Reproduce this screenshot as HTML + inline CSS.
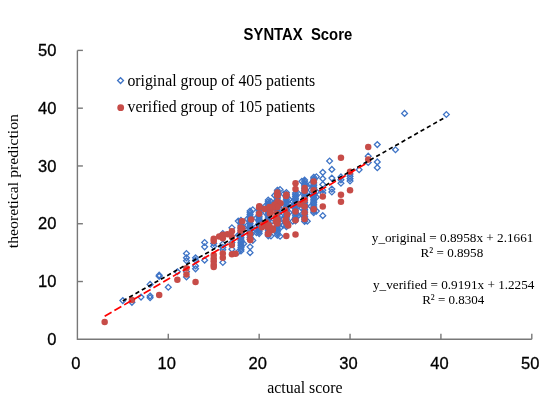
<!DOCTYPE html>
<html><head><meta charset="utf-8"><style>
html,body{margin:0;padding:0;background:#fff;}
svg{display:block;will-change:transform;}
.t{font-family:"Liberation Sans",sans-serif;font-size:16.5px;fill:#000;stroke:#000;stroke-width:0.3px;}
.s{font-family:"Liberation Serif",serif;fill:#000;}
</style></head><body>
<svg width="550" height="401" viewBox="0 0 550 401">
<rect width="550" height="401" fill="#fff"/>
<text x="243.6" y="40.0" textLength="108.6" lengthAdjust="spacingAndGlyphs" style="font-family:'Liberation Sans',sans-serif;font-weight:bold;font-size:16.2px;white-space:pre" xml:space="preserve">SYNTAX  Score</text>
<path d="M77.4 50.4V339.3H531.8" fill="none" stroke="#787878" stroke-width="1.4"/><path d="M77.4 281.52h5.5" stroke="#787878" stroke-width="1.4"/><path d="M77.4 223.74h5.5" stroke="#787878" stroke-width="1.4"/><path d="M77.4 165.96h5.5" stroke="#787878" stroke-width="1.4"/><path d="M77.4 108.18h5.5" stroke="#787878" stroke-width="1.4"/><path d="M77.4 50.40h5.5" stroke="#787878" stroke-width="1.4"/><path d="M168.28 339.3v-5.5" stroke="#787878" stroke-width="1.4"/><path d="M259.16 339.3v-5.5" stroke="#787878" stroke-width="1.4"/><path d="M350.04 339.3v-5.5" stroke="#787878" stroke-width="1.4"/><path d="M440.92 339.3v-5.5" stroke="#787878" stroke-width="1.4"/><path d="M531.80 339.3v-5.5" stroke="#787878" stroke-width="1.4"/>
<g class="t"><text x="56.4" y="345.00" text-anchor="end">0</text><text x="56.4" y="287.22" text-anchor="end">10</text><text x="56.4" y="229.44" text-anchor="end">20</text><text x="56.4" y="171.66" text-anchor="end">30</text><text x="56.4" y="113.88" text-anchor="end">40</text><text x="56.4" y="56.10" text-anchor="end">50</text><text x="75.90" y="368.6" text-anchor="middle">0</text><text x="166.78" y="368.6" text-anchor="middle">10</text><text x="257.66" y="368.6" text-anchor="middle">20</text><text x="348.54" y="368.6" text-anchor="middle">30</text><text x="439.42" y="368.6" text-anchor="middle">40</text><text x="530.30" y="368.6" text-anchor="middle">50</text></g>
<g fill="none" stroke="#3f74c6" stroke-width="1.3"><path d="M238.26 248.91l2.9 2.9 -2.9 2.9 -2.9 -2.9z"/><path d="M243.71 240.79l2.9 2.9 -2.9 2.9 -2.9 -2.9z"/><path d="M238.26 232.25l2.9 2.9 -2.9 2.9 -2.9 -2.9z"/><path d="M243.71 224.66l2.9 2.9 -2.9 2.9 -2.9 -2.9z"/><path d="M238.26 218.21l2.9 2.9 -2.9 2.9 -2.9 -2.9z"/><path d="M252.80 237.51l2.9 2.9 -2.9 2.9 -2.9 -2.9z"/><path d="M252.80 229.22l2.9 2.9 -2.9 2.9 -2.9 -2.9z"/><path d="M247.35 222.64l2.9 2.9 -2.9 2.9 -2.9 -2.9z"/><path d="M247.35 216.14l2.9 2.9 -2.9 2.9 -2.9 -2.9z"/><path d="M252.80 206.85l2.9 2.9 -2.9 2.9 -2.9 -2.9z"/><path d="M256.43 229.83l2.9 2.9 -2.9 2.9 -2.9 -2.9z"/><path d="M256.43 223.75l2.9 2.9 -2.9 2.9 -2.9 -2.9z"/><path d="M256.43 215.17l2.9 2.9 -2.9 2.9 -2.9 -2.9z"/><path d="M261.89 205.27l2.9 2.9 -2.9 2.9 -2.9 -2.9z"/><path d="M270.97 233.07l2.9 2.9 -2.9 2.9 -2.9 -2.9z"/><path d="M270.97 225.07l2.9 2.9 -2.9 2.9 -2.9 -2.9z"/><path d="M270.97 219.01l2.9 2.9 -2.9 2.9 -2.9 -2.9z"/><path d="M265.52 209.87l2.9 2.9 -2.9 2.9 -2.9 -2.9z"/><path d="M265.52 203.00l2.9 2.9 -2.9 2.9 -2.9 -2.9z"/><path d="M270.97 198.76l2.9 2.9 -2.9 2.9 -2.9 -2.9z"/><path d="M280.06 233.38l2.9 2.9 -2.9 2.9 -2.9 -2.9z"/><path d="M280.06 224.99l2.9 2.9 -2.9 2.9 -2.9 -2.9z"/><path d="M280.06 219.79l2.9 2.9 -2.9 2.9 -2.9 -2.9z"/><path d="M280.06 212.82l2.9 2.9 -2.9 2.9 -2.9 -2.9z"/><path d="M280.06 206.35l2.9 2.9 -2.9 2.9 -2.9 -2.9z"/><path d="M274.61 199.57l2.9 2.9 -2.9 2.9 -2.9 -2.9z"/><path d="M274.61 192.53l2.9 2.9 -2.9 2.9 -2.9 -2.9z"/><path d="M280.06 186.64l2.9 2.9 -2.9 2.9 -2.9 -2.9z"/><path d="M283.70 222.12l2.9 2.9 -2.9 2.9 -2.9 -2.9z"/><path d="M283.70 216.17l2.9 2.9 -2.9 2.9 -2.9 -2.9z"/><path d="M289.15 209.63l2.9 2.9 -2.9 2.9 -2.9 -2.9z"/><path d="M283.70 204.02l2.9 2.9 -2.9 2.9 -2.9 -2.9z"/><path d="M289.15 196.52l2.9 2.9 -2.9 2.9 -2.9 -2.9z"/><path d="M283.70 191.07l2.9 2.9 -2.9 2.9 -2.9 -2.9z"/><path d="M292.79 218.26l2.9 2.9 -2.9 2.9 -2.9 -2.9z"/><path d="M298.24 212.68l2.9 2.9 -2.9 2.9 -2.9 -2.9z"/><path d="M292.79 203.15l2.9 2.9 -2.9 2.9 -2.9 -2.9z"/><path d="M292.79 198.73l2.9 2.9 -2.9 2.9 -2.9 -2.9z"/><path d="M298.24 190.64l2.9 2.9 -2.9 2.9 -2.9 -2.9z"/><path d="M307.33 218.35l2.9 2.9 -2.9 2.9 -2.9 -2.9z"/><path d="M301.87 211.62l2.9 2.9 -2.9 2.9 -2.9 -2.9z"/><path d="M301.87 205.42l2.9 2.9 -2.9 2.9 -2.9 -2.9z"/><path d="M301.87 199.23l2.9 2.9 -2.9 2.9 -2.9 -2.9z"/><path d="M307.33 189.43l2.9 2.9 -2.9 2.9 -2.9 -2.9z"/><path d="M307.33 184.82l2.9 2.9 -2.9 2.9 -2.9 -2.9z"/><path d="M301.87 178.41l2.9 2.9 -2.9 2.9 -2.9 -2.9z"/><path d="M316.41 208.20l2.9 2.9 -2.9 2.9 -2.9 -2.9z"/><path d="M310.96 203.40l2.9 2.9 -2.9 2.9 -2.9 -2.9z"/><path d="M316.41 194.27l2.9 2.9 -2.9 2.9 -2.9 -2.9z"/><path d="M316.41 188.97l2.9 2.9 -2.9 2.9 -2.9 -2.9z"/><path d="M310.96 180.94l2.9 2.9 -2.9 2.9 -2.9 -2.9z"/><path d="M316.41 173.91l2.9 2.9 -2.9 2.9 -2.9 -2.9z"/><path d="M122.84 297.69l2.9 2.9 -2.9 2.9 -2.9 -2.9z"/><path d="M131.93 299.42l2.9 2.9 -2.9 2.9 -2.9 -2.9z"/><path d="M141.02 294.22l2.9 2.9 -2.9 2.9 -2.9 -2.9z"/><path d="M150.10 294.80l2.9 2.9 -2.9 2.9 -2.9 -2.9z"/><path d="M150.10 293.07l2.9 2.9 -2.9 2.9 -2.9 -2.9z"/><path d="M150.10 281.51l2.9 2.9 -2.9 2.9 -2.9 -2.9z"/><path d="M159.19 273.42l2.9 2.9 -2.9 2.9 -2.9 -2.9z"/><path d="M159.19 272.26l2.9 2.9 -2.9 2.9 -2.9 -2.9z"/><path d="M168.28 284.40l2.9 2.9 -2.9 2.9 -2.9 -2.9z"/><path d="M177.37 268.80l2.9 2.9 -2.9 2.9 -2.9 -2.9z"/><path d="M186.46 250.60l2.9 2.9 -2.9 2.9 -2.9 -2.9z"/><path d="M186.46 254.93l2.9 2.9 -2.9 2.9 -2.9 -2.9z"/><path d="M186.46 257.82l2.9 2.9 -2.9 2.9 -2.9 -2.9z"/><path d="M186.46 268.80l2.9 2.9 -2.9 2.9 -2.9 -2.9z"/><path d="M186.46 274.00l2.9 2.9 -2.9 2.9 -2.9 -2.9z"/><path d="M195.54 254.93l2.9 2.9 -2.9 2.9 -2.9 -2.9z"/><path d="M195.54 257.24l2.9 2.9 -2.9 2.9 -2.9 -2.9z"/><path d="M195.54 263.02l2.9 2.9 -2.9 2.9 -2.9 -2.9z"/><path d="M195.54 265.91l2.9 2.9 -2.9 2.9 -2.9 -2.9z"/><path d="M204.63 239.62l2.9 2.9 -2.9 2.9 -2.9 -2.9z"/><path d="M204.63 243.95l2.9 2.9 -2.9 2.9 -2.9 -2.9z"/><path d="M204.63 257.24l2.9 2.9 -2.9 2.9 -2.9 -2.9z"/><path d="M213.72 243.37l2.9 2.9 -2.9 2.9 -2.9 -2.9z"/><path d="M213.72 240.49l2.9 2.9 -2.9 2.9 -2.9 -2.9z"/><path d="M222.81 230.66l2.9 2.9 -2.9 2.9 -2.9 -2.9z"/><path d="M222.81 241.06l2.9 2.9 -2.9 2.9 -2.9 -2.9z"/><path d="M222.81 244.53l2.9 2.9 -2.9 2.9 -2.9 -2.9z"/><path d="M222.81 246.84l2.9 2.9 -2.9 2.9 -2.9 -2.9z"/><path d="M222.81 259.55l2.9 2.9 -2.9 2.9 -2.9 -2.9z"/><path d="M231.90 224.88l2.9 2.9 -2.9 2.9 -2.9 -2.9z"/><path d="M231.90 239.62l2.9 2.9 -2.9 2.9 -2.9 -2.9z"/><path d="M231.90 246.26l2.9 2.9 -2.9 2.9 -2.9 -2.9z"/><path d="M250.07 243.95l2.9 2.9 -2.9 2.9 -2.9 -2.9z"/><path d="M250.07 249.73l2.9 2.9 -2.9 2.9 -2.9 -2.9z"/><path d="M322.78 169.42l2.9 2.9 -2.9 2.9 -2.9 -2.9z"/><path d="M322.78 175.77l2.9 2.9 -2.9 2.9 -2.9 -2.9z"/><path d="M322.78 181.55l2.9 2.9 -2.9 2.9 -2.9 -2.9z"/><path d="M322.78 187.33l2.9 2.9 -2.9 2.9 -2.9 -2.9z"/><path d="M322.78 190.22l2.9 2.9 -2.9 2.9 -2.9 -2.9z"/><path d="M322.78 212.75l2.9 2.9 -2.9 2.9 -2.9 -2.9z"/><path d="M329.59 158.15l2.9 2.9 -2.9 2.9 -2.9 -2.9z"/><path d="M331.86 166.53l2.9 2.9 -2.9 2.9 -2.9 -2.9z"/><path d="M331.86 175.19l2.9 2.9 -2.9 2.9 -2.9 -2.9z"/><path d="M331.86 186.17l2.9 2.9 -2.9 2.9 -2.9 -2.9z"/><path d="M331.86 189.06l2.9 2.9 -2.9 2.9 -2.9 -2.9z"/><path d="M340.95 174.04l2.9 2.9 -2.9 2.9 -2.9 -2.9z"/><path d="M340.95 176.93l2.9 2.9 -2.9 2.9 -2.9 -2.9z"/><path d="M340.95 180.39l2.9 2.9 -2.9 2.9 -2.9 -2.9z"/><path d="M350.04 171.15l2.9 2.9 -2.9 2.9 -2.9 -2.9z"/><path d="M350.04 173.46l2.9 2.9 -2.9 2.9 -2.9 -2.9z"/><path d="M350.04 175.77l2.9 2.9 -2.9 2.9 -2.9 -2.9z"/><path d="M350.04 178.08l2.9 2.9 -2.9 2.9 -2.9 -2.9z"/><path d="M359.13 166.82l2.9 2.9 -2.9 2.9 -2.9 -2.9z"/><path d="M368.22 153.24l2.9 2.9 -2.9 2.9 -2.9 -2.9z"/><path d="M368.22 159.59l2.9 2.9 -2.9 2.9 -2.9 -2.9z"/><path d="M377.30 141.68l2.9 2.9 -2.9 2.9 -2.9 -2.9z"/><path d="M377.30 159.02l2.9 2.9 -2.9 2.9 -2.9 -2.9z"/><path d="M377.30 164.79l2.9 2.9 -2.9 2.9 -2.9 -2.9z"/><path d="M395.48 146.88l2.9 2.9 -2.9 2.9 -2.9 -2.9z"/><path d="M404.57 110.48l2.9 2.9 -2.9 2.9 -2.9 -2.9z"/><path d="M446.37 111.64l2.9 2.9 -2.9 2.9 -2.9 -2.9z"/><path d="M240.98 248.00l2.9 2.9 -2.9 2.9 -2.9 -2.9z"/><path d="M240.98 246.30l2.9 2.9 -2.9 2.9 -2.9 -2.9z"/><path d="M240.98 244.59l2.9 2.9 -2.9 2.9 -2.9 -2.9z"/><path d="M240.98 242.89l2.9 2.9 -2.9 2.9 -2.9 -2.9z"/><path d="M240.98 241.19l2.9 2.9 -2.9 2.9 -2.9 -2.9z"/><path d="M240.98 239.49l2.9 2.9 -2.9 2.9 -2.9 -2.9z"/><path d="M240.98 237.79l2.9 2.9 -2.9 2.9 -2.9 -2.9z"/><path d="M240.98 236.09l2.9 2.9 -2.9 2.9 -2.9 -2.9z"/><path d="M240.98 234.39l2.9 2.9 -2.9 2.9 -2.9 -2.9z"/><path d="M240.98 232.68l2.9 2.9 -2.9 2.9 -2.9 -2.9z"/><path d="M240.98 230.98l2.9 2.9 -2.9 2.9 -2.9 -2.9z"/><path d="M240.98 229.28l2.9 2.9 -2.9 2.9 -2.9 -2.9z"/><path d="M240.98 227.58l2.9 2.9 -2.9 2.9 -2.9 -2.9z"/><path d="M240.98 225.88l2.9 2.9 -2.9 2.9 -2.9 -2.9z"/><path d="M240.98 224.18l2.9 2.9 -2.9 2.9 -2.9 -2.9z"/><path d="M240.98 222.48l2.9 2.9 -2.9 2.9 -2.9 -2.9z"/><path d="M240.98 220.78l2.9 2.9 -2.9 2.9 -2.9 -2.9z"/><path d="M240.98 219.07l2.9 2.9 -2.9 2.9 -2.9 -2.9z"/><path d="M240.98 217.37l2.9 2.9 -2.9 2.9 -2.9 -2.9z"/><path d="M250.07 236.44l2.9 2.9 -2.9 2.9 -2.9 -2.9z"/><path d="M250.07 234.67l2.9 2.9 -2.9 2.9 -2.9 -2.9z"/><path d="M250.07 232.90l2.9 2.9 -2.9 2.9 -2.9 -2.9z"/><path d="M250.07 231.13l2.9 2.9 -2.9 2.9 -2.9 -2.9z"/><path d="M250.07 229.36l2.9 2.9 -2.9 2.9 -2.9 -2.9z"/><path d="M250.07 227.59l2.9 2.9 -2.9 2.9 -2.9 -2.9z"/><path d="M250.07 225.82l2.9 2.9 -2.9 2.9 -2.9 -2.9z"/><path d="M250.07 224.05l2.9 2.9 -2.9 2.9 -2.9 -2.9z"/><path d="M250.07 222.28l2.9 2.9 -2.9 2.9 -2.9 -2.9z"/><path d="M250.07 220.51l2.9 2.9 -2.9 2.9 -2.9 -2.9z"/><path d="M250.07 218.75l2.9 2.9 -2.9 2.9 -2.9 -2.9z"/><path d="M250.07 216.98l2.9 2.9 -2.9 2.9 -2.9 -2.9z"/><path d="M250.07 215.21l2.9 2.9 -2.9 2.9 -2.9 -2.9z"/><path d="M250.07 213.44l2.9 2.9 -2.9 2.9 -2.9 -2.9z"/><path d="M250.07 211.67l2.9 2.9 -2.9 2.9 -2.9 -2.9z"/><path d="M250.07 209.90l2.9 2.9 -2.9 2.9 -2.9 -2.9z"/><path d="M250.07 208.13l2.9 2.9 -2.9 2.9 -2.9 -2.9z"/><path d="M259.16 230.66l2.9 2.9 -2.9 2.9 -2.9 -2.9z"/><path d="M259.16 228.93l2.9 2.9 -2.9 2.9 -2.9 -2.9z"/><path d="M259.16 227.20l2.9 2.9 -2.9 2.9 -2.9 -2.9z"/><path d="M259.16 225.46l2.9 2.9 -2.9 2.9 -2.9 -2.9z"/><path d="M259.16 223.73l2.9 2.9 -2.9 2.9 -2.9 -2.9z"/><path d="M259.16 222.00l2.9 2.9 -2.9 2.9 -2.9 -2.9z"/><path d="M259.16 220.26l2.9 2.9 -2.9 2.9 -2.9 -2.9z"/><path d="M259.16 218.53l2.9 2.9 -2.9 2.9 -2.9 -2.9z"/><path d="M259.16 216.80l2.9 2.9 -2.9 2.9 -2.9 -2.9z"/><path d="M259.16 215.06l2.9 2.9 -2.9 2.9 -2.9 -2.9z"/><path d="M259.16 213.33l2.9 2.9 -2.9 2.9 -2.9 -2.9z"/><path d="M259.16 211.60l2.9 2.9 -2.9 2.9 -2.9 -2.9z"/><path d="M259.16 209.86l2.9 2.9 -2.9 2.9 -2.9 -2.9z"/><path d="M259.16 208.13l2.9 2.9 -2.9 2.9 -2.9 -2.9z"/><path d="M259.16 206.39l2.9 2.9 -2.9 2.9 -2.9 -2.9z"/><path d="M268.25 232.97l2.9 2.9 -2.9 2.9 -2.9 -2.9z"/><path d="M268.25 231.27l2.9 2.9 -2.9 2.9 -2.9 -2.9z"/><path d="M268.25 229.56l2.9 2.9 -2.9 2.9 -2.9 -2.9z"/><path d="M268.25 227.86l2.9 2.9 -2.9 2.9 -2.9 -2.9z"/><path d="M268.25 226.15l2.9 2.9 -2.9 2.9 -2.9 -2.9z"/><path d="M268.25 224.44l2.9 2.9 -2.9 2.9 -2.9 -2.9z"/><path d="M268.25 222.74l2.9 2.9 -2.9 2.9 -2.9 -2.9z"/><path d="M268.25 221.03l2.9 2.9 -2.9 2.9 -2.9 -2.9z"/><path d="M268.25 219.33l2.9 2.9 -2.9 2.9 -2.9 -2.9z"/><path d="M268.25 217.62l2.9 2.9 -2.9 2.9 -2.9 -2.9z"/><path d="M268.25 215.91l2.9 2.9 -2.9 2.9 -2.9 -2.9z"/><path d="M268.25 214.21l2.9 2.9 -2.9 2.9 -2.9 -2.9z"/><path d="M268.25 212.50l2.9 2.9 -2.9 2.9 -2.9 -2.9z"/><path d="M268.25 210.80l2.9 2.9 -2.9 2.9 -2.9 -2.9z"/><path d="M268.25 209.09l2.9 2.9 -2.9 2.9 -2.9 -2.9z"/><path d="M268.25 207.39l2.9 2.9 -2.9 2.9 -2.9 -2.9z"/><path d="M268.25 205.68l2.9 2.9 -2.9 2.9 -2.9 -2.9z"/><path d="M268.25 203.97l2.9 2.9 -2.9 2.9 -2.9 -2.9z"/><path d="M268.25 202.27l2.9 2.9 -2.9 2.9 -2.9 -2.9z"/><path d="M268.25 200.56l2.9 2.9 -2.9 2.9 -2.9 -2.9z"/><path d="M268.25 198.86l2.9 2.9 -2.9 2.9 -2.9 -2.9z"/><path d="M268.25 197.15l2.9 2.9 -2.9 2.9 -2.9 -2.9z"/><path d="M277.34 232.40l2.9 2.9 -2.9 2.9 -2.9 -2.9z"/><path d="M277.34 230.66l2.9 2.9 -2.9 2.9 -2.9 -2.9z"/><path d="M277.34 228.93l2.9 2.9 -2.9 2.9 -2.9 -2.9z"/><path d="M277.34 227.20l2.9 2.9 -2.9 2.9 -2.9 -2.9z"/><path d="M277.34 225.46l2.9 2.9 -2.9 2.9 -2.9 -2.9z"/><path d="M277.34 223.73l2.9 2.9 -2.9 2.9 -2.9 -2.9z"/><path d="M277.34 222.00l2.9 2.9 -2.9 2.9 -2.9 -2.9z"/><path d="M277.34 220.26l2.9 2.9 -2.9 2.9 -2.9 -2.9z"/><path d="M277.34 218.53l2.9 2.9 -2.9 2.9 -2.9 -2.9z"/><path d="M277.34 216.80l2.9 2.9 -2.9 2.9 -2.9 -2.9z"/><path d="M277.34 215.06l2.9 2.9 -2.9 2.9 -2.9 -2.9z"/><path d="M277.34 213.33l2.9 2.9 -2.9 2.9 -2.9 -2.9z"/><path d="M277.34 211.60l2.9 2.9 -2.9 2.9 -2.9 -2.9z"/><path d="M277.34 209.86l2.9 2.9 -2.9 2.9 -2.9 -2.9z"/><path d="M277.34 208.13l2.9 2.9 -2.9 2.9 -2.9 -2.9z"/><path d="M277.34 206.39l2.9 2.9 -2.9 2.9 -2.9 -2.9z"/><path d="M277.34 204.66l2.9 2.9 -2.9 2.9 -2.9 -2.9z"/><path d="M277.34 202.93l2.9 2.9 -2.9 2.9 -2.9 -2.9z"/><path d="M277.34 201.19l2.9 2.9 -2.9 2.9 -2.9 -2.9z"/><path d="M277.34 199.46l2.9 2.9 -2.9 2.9 -2.9 -2.9z"/><path d="M277.34 197.73l2.9 2.9 -2.9 2.9 -2.9 -2.9z"/><path d="M277.34 195.99l2.9 2.9 -2.9 2.9 -2.9 -2.9z"/><path d="M277.34 194.26l2.9 2.9 -2.9 2.9 -2.9 -2.9z"/><path d="M277.34 192.53l2.9 2.9 -2.9 2.9 -2.9 -2.9z"/><path d="M277.34 190.79l2.9 2.9 -2.9 2.9 -2.9 -2.9z"/><path d="M277.34 189.06l2.9 2.9 -2.9 2.9 -2.9 -2.9z"/><path d="M277.34 187.33l2.9 2.9 -2.9 2.9 -2.9 -2.9z"/><path d="M286.42 223.73l2.9 2.9 -2.9 2.9 -2.9 -2.9z"/><path d="M286.42 222.02l2.9 2.9 -2.9 2.9 -2.9 -2.9z"/><path d="M286.42 220.32l2.9 2.9 -2.9 2.9 -2.9 -2.9z"/><path d="M286.42 218.62l2.9 2.9 -2.9 2.9 -2.9 -2.9z"/><path d="M286.42 216.91l2.9 2.9 -2.9 2.9 -2.9 -2.9z"/><path d="M286.42 215.21l2.9 2.9 -2.9 2.9 -2.9 -2.9z"/><path d="M286.42 213.50l2.9 2.9 -2.9 2.9 -2.9 -2.9z"/><path d="M286.42 211.80l2.9 2.9 -2.9 2.9 -2.9 -2.9z"/><path d="M286.42 210.09l2.9 2.9 -2.9 2.9 -2.9 -2.9z"/><path d="M286.42 208.39l2.9 2.9 -2.9 2.9 -2.9 -2.9z"/><path d="M286.42 206.68l2.9 2.9 -2.9 2.9 -2.9 -2.9z"/><path d="M286.42 204.98l2.9 2.9 -2.9 2.9 -2.9 -2.9z"/><path d="M286.42 203.27l2.9 2.9 -2.9 2.9 -2.9 -2.9z"/><path d="M286.42 201.57l2.9 2.9 -2.9 2.9 -2.9 -2.9z"/><path d="M286.42 199.87l2.9 2.9 -2.9 2.9 -2.9 -2.9z"/><path d="M286.42 198.16l2.9 2.9 -2.9 2.9 -2.9 -2.9z"/><path d="M286.42 196.46l2.9 2.9 -2.9 2.9 -2.9 -2.9z"/><path d="M286.42 194.75l2.9 2.9 -2.9 2.9 -2.9 -2.9z"/><path d="M286.42 193.05l2.9 2.9 -2.9 2.9 -2.9 -2.9z"/><path d="M286.42 191.34l2.9 2.9 -2.9 2.9 -2.9 -2.9z"/><path d="M286.42 189.64l2.9 2.9 -2.9 2.9 -2.9 -2.9z"/><path d="M295.51 217.95l2.9 2.9 -2.9 2.9 -2.9 -2.9z"/><path d="M295.51 216.22l2.9 2.9 -2.9 2.9 -2.9 -2.9z"/><path d="M295.51 214.48l2.9 2.9 -2.9 2.9 -2.9 -2.9z"/><path d="M295.51 212.75l2.9 2.9 -2.9 2.9 -2.9 -2.9z"/><path d="M295.51 211.02l2.9 2.9 -2.9 2.9 -2.9 -2.9z"/><path d="M295.51 209.28l2.9 2.9 -2.9 2.9 -2.9 -2.9z"/><path d="M295.51 207.55l2.9 2.9 -2.9 2.9 -2.9 -2.9z"/><path d="M295.51 205.82l2.9 2.9 -2.9 2.9 -2.9 -2.9z"/><path d="M295.51 204.08l2.9 2.9 -2.9 2.9 -2.9 -2.9z"/><path d="M295.51 202.35l2.9 2.9 -2.9 2.9 -2.9 -2.9z"/><path d="M295.51 200.62l2.9 2.9 -2.9 2.9 -2.9 -2.9z"/><path d="M295.51 198.88l2.9 2.9 -2.9 2.9 -2.9 -2.9z"/><path d="M295.51 197.15l2.9 2.9 -2.9 2.9 -2.9 -2.9z"/><path d="M295.51 195.42l2.9 2.9 -2.9 2.9 -2.9 -2.9z"/><path d="M295.51 193.68l2.9 2.9 -2.9 2.9 -2.9 -2.9z"/><path d="M295.51 191.95l2.9 2.9 -2.9 2.9 -2.9 -2.9z"/><path d="M295.51 190.22l2.9 2.9 -2.9 2.9 -2.9 -2.9z"/><path d="M304.60 218.53l2.9 2.9 -2.9 2.9 -2.9 -2.9z"/><path d="M304.60 216.81l2.9 2.9 -2.9 2.9 -2.9 -2.9z"/><path d="M304.60 215.09l2.9 2.9 -2.9 2.9 -2.9 -2.9z"/><path d="M304.60 213.36l2.9 2.9 -2.9 2.9 -2.9 -2.9z"/><path d="M304.60 211.64l2.9 2.9 -2.9 2.9 -2.9 -2.9z"/><path d="M304.60 209.92l2.9 2.9 -2.9 2.9 -2.9 -2.9z"/><path d="M304.60 208.20l2.9 2.9 -2.9 2.9 -2.9 -2.9z"/><path d="M304.60 206.48l2.9 2.9 -2.9 2.9 -2.9 -2.9z"/><path d="M304.60 204.76l2.9 2.9 -2.9 2.9 -2.9 -2.9z"/><path d="M304.60 203.04l2.9 2.9 -2.9 2.9 -2.9 -2.9z"/><path d="M304.60 201.32l2.9 2.9 -2.9 2.9 -2.9 -2.9z"/><path d="M304.60 199.59l2.9 2.9 -2.9 2.9 -2.9 -2.9z"/><path d="M304.60 197.87l2.9 2.9 -2.9 2.9 -2.9 -2.9z"/><path d="M304.60 196.15l2.9 2.9 -2.9 2.9 -2.9 -2.9z"/><path d="M304.60 194.43l2.9 2.9 -2.9 2.9 -2.9 -2.9z"/><path d="M304.60 192.71l2.9 2.9 -2.9 2.9 -2.9 -2.9z"/><path d="M304.60 190.99l2.9 2.9 -2.9 2.9 -2.9 -2.9z"/><path d="M304.60 189.27l2.9 2.9 -2.9 2.9 -2.9 -2.9z"/><path d="M304.60 187.54l2.9 2.9 -2.9 2.9 -2.9 -2.9z"/><path d="M304.60 185.82l2.9 2.9 -2.9 2.9 -2.9 -2.9z"/><path d="M304.60 184.10l2.9 2.9 -2.9 2.9 -2.9 -2.9z"/><path d="M304.60 182.38l2.9 2.9 -2.9 2.9 -2.9 -2.9z"/><path d="M304.60 180.66l2.9 2.9 -2.9 2.9 -2.9 -2.9z"/><path d="M304.60 178.94l2.9 2.9 -2.9 2.9 -2.9 -2.9z"/><path d="M304.60 177.22l2.9 2.9 -2.9 2.9 -2.9 -2.9z"/><path d="M313.69 209.86l2.9 2.9 -2.9 2.9 -2.9 -2.9z"/><path d="M313.69 208.17l2.9 2.9 -2.9 2.9 -2.9 -2.9z"/><path d="M313.69 206.48l2.9 2.9 -2.9 2.9 -2.9 -2.9z"/><path d="M313.69 204.79l2.9 2.9 -2.9 2.9 -2.9 -2.9z"/><path d="M313.69 203.09l2.9 2.9 -2.9 2.9 -2.9 -2.9z"/><path d="M313.69 201.40l2.9 2.9 -2.9 2.9 -2.9 -2.9z"/><path d="M313.69 199.71l2.9 2.9 -2.9 2.9 -2.9 -2.9z"/><path d="M313.69 198.02l2.9 2.9 -2.9 2.9 -2.9 -2.9z"/><path d="M313.69 196.32l2.9 2.9 -2.9 2.9 -2.9 -2.9z"/><path d="M313.69 194.63l2.9 2.9 -2.9 2.9 -2.9 -2.9z"/><path d="M313.69 192.94l2.9 2.9 -2.9 2.9 -2.9 -2.9z"/><path d="M313.69 191.25l2.9 2.9 -2.9 2.9 -2.9 -2.9z"/><path d="M313.69 189.56l2.9 2.9 -2.9 2.9 -2.9 -2.9z"/><path d="M313.69 187.86l2.9 2.9 -2.9 2.9 -2.9 -2.9z"/><path d="M313.69 186.17l2.9 2.9 -2.9 2.9 -2.9 -2.9z"/><path d="M313.69 184.48l2.9 2.9 -2.9 2.9 -2.9 -2.9z"/><path d="M313.69 182.79l2.9 2.9 -2.9 2.9 -2.9 -2.9z"/><path d="M313.69 181.10l2.9 2.9 -2.9 2.9 -2.9 -2.9z"/><path d="M313.69 179.40l2.9 2.9 -2.9 2.9 -2.9 -2.9z"/><path d="M313.69 177.71l2.9 2.9 -2.9 2.9 -2.9 -2.9z"/><path d="M313.69 176.02l2.9 2.9 -2.9 2.9 -2.9 -2.9z"/><path d="M313.69 174.33l2.9 2.9 -2.9 2.9 -2.9 -2.9z"/></g>
<g fill="#c74c48"><circle cx="104.66" cy="321.97" r="3.25"/><circle cx="131.93" cy="300.01" r="3.25"/><circle cx="159.19" cy="295.10" r="3.25"/><circle cx="177.37" cy="279.79" r="3.25"/><circle cx="186.46" cy="268.23" r="3.25"/><circle cx="186.46" cy="274.59" r="3.25"/><circle cx="195.54" cy="282.10" r="3.25"/><circle cx="213.72" cy="238.76" r="3.25"/><circle cx="213.72" cy="241.07" r="3.25"/><circle cx="213.72" cy="254.94" r="3.25"/><circle cx="213.72" cy="258.41" r="3.25"/><circle cx="213.72" cy="261.30" r="3.25"/><circle cx="213.72" cy="264.76" r="3.25"/><circle cx="213.72" cy="267.07" r="3.25"/><circle cx="219.17" cy="236.45" r="3.25"/><circle cx="222.81" cy="234.72" r="3.25"/><circle cx="222.81" cy="238.19" r="3.25"/><circle cx="222.81" cy="253.50" r="3.25"/><circle cx="222.81" cy="257.83" r="3.25"/><circle cx="227.35" cy="234.14" r="3.25"/><circle cx="231.90" cy="231.25" r="3.25"/><circle cx="231.90" cy="237.03" r="3.25"/><circle cx="231.90" cy="245.12" r="3.25"/><circle cx="231.90" cy="254.36" r="3.25"/><circle cx="235.53" cy="253.79" r="3.25"/><circle cx="250.07" cy="239.34" r="3.25"/><circle cx="295.51" cy="183.29" r="3.25"/><circle cx="295.51" cy="189.07" r="3.25"/><circle cx="295.51" cy="211.61" r="3.25"/><circle cx="295.51" cy="220.27" r="3.25"/><circle cx="295.51" cy="234.43" r="3.25"/><circle cx="300.06" cy="204.09" r="3.25"/><circle cx="304.60" cy="187.92" r="3.25"/><circle cx="304.60" cy="190.81" r="3.25"/><circle cx="304.60" cy="200.05" r="3.25"/><circle cx="304.60" cy="206.41" r="3.25"/><circle cx="304.60" cy="212.76" r="3.25"/><circle cx="304.60" cy="219.12" r="3.25"/><circle cx="313.69" cy="181.56" r="3.25"/><circle cx="313.69" cy="190.23" r="3.25"/><circle cx="313.69" cy="209.29" r="3.25"/><circle cx="322.78" cy="196.58" r="3.25"/><circle cx="322.78" cy="206.41" r="3.25"/><circle cx="340.95" cy="157.87" r="3.25"/><circle cx="340.95" cy="194.85" r="3.25"/><circle cx="340.95" cy="201.78" r="3.25"/><circle cx="350.04" cy="171.74" r="3.25"/><circle cx="350.04" cy="190.23" r="3.25"/><circle cx="368.22" cy="146.89" r="3.25"/><circle cx="368.22" cy="159.60" r="3.25"/><circle cx="242.20" cy="221.30" r="3.25"/><circle cx="251.20" cy="219.40" r="3.25"/><circle cx="259.10" cy="207.50" r="3.25"/><circle cx="259.10" cy="213.80" r="3.25"/><circle cx="264.70" cy="209.00" r="3.25"/><circle cx="275.10" cy="207.50" r="3.25"/><circle cx="269.90" cy="213.50" r="3.25"/><circle cx="262.40" cy="224.70" r="3.25"/><circle cx="266.20" cy="222.40" r="3.25"/><circle cx="269.20" cy="225.40" r="3.25"/><circle cx="272.90" cy="228.40" r="3.25"/><circle cx="275.90" cy="221.70" r="3.25"/><circle cx="242.20" cy="228.40" r="3.25"/><circle cx="277.50" cy="195.00" r="3.25"/><circle cx="286.10" cy="196.10" r="3.25"/><circle cx="277.50" cy="201.70" r="3.25"/><circle cx="280.50" cy="203.20" r="3.25"/><circle cx="274.50" cy="204.70" r="3.25"/><circle cx="277.50" cy="207.00" r="3.25"/><circle cx="272.20" cy="207.70" r="3.25"/><circle cx="285.00" cy="210.00" r="3.25"/><circle cx="287.20" cy="214.40" r="3.25"/><circle cx="276.70" cy="213.70" r="3.25"/><circle cx="276.00" cy="217.40" r="3.25"/><circle cx="277.50" cy="221.20" r="3.25"/><circle cx="285.70" cy="219.70" r="3.25"/><circle cx="287.20" cy="223.40" r="3.25"/><circle cx="270.70" cy="212.20" r="3.25"/><circle cx="277.30" cy="192.50" r="3.25"/><circle cx="277.30" cy="195.50" r="3.25"/><circle cx="286.40" cy="194.70" r="3.25"/><circle cx="240.60" cy="227.60" r="3.25"/><circle cx="240.60" cy="231.00" r="3.25"/><circle cx="250.00" cy="234.00" r="3.25"/><circle cx="250.30" cy="240.00" r="3.25"/><circle cx="261.90" cy="227.20" r="3.25"/><circle cx="267.90" cy="227.20" r="3.25"/><circle cx="267.90" cy="234.00" r="3.25"/><circle cx="272.40" cy="229.50" r="3.25"/><circle cx="268.70" cy="225.50" r="3.25"/><circle cx="268.70" cy="233.00" r="3.25"/><circle cx="272.50" cy="230.00" r="3.25"/><circle cx="277.30" cy="219.50" r="3.25"/><circle cx="277.30" cy="223.60" r="3.25"/><circle cx="285.90" cy="221.70" r="3.25"/><circle cx="288.20" cy="225.50" r="3.25"/><circle cx="286.30" cy="236.00" r="3.25"/><circle cx="259.30" cy="206.20" r="3.25"/><circle cx="269.40" cy="206.90" r="3.25"/></g>
<path d="M122.84 300.90L445.46 117.16" stroke="#000" stroke-width="1.7" stroke-dasharray="4.26 3.03" fill="none"/>
<path d="M104.66 316.29L368.22 162.28" stroke="#f00" stroke-width="1.7" stroke-dasharray="8 3.3" fill="none"/>
<g class="s" font-size="15.7">
<path d="M120.55 77.7l2.9 2.9-2.9 2.9-2.9-2.9z" fill="none" stroke="#3f74c6" stroke-width="1.35"/>
<text x="127.4" y="85.7" textLength="187.8" lengthAdjust="spacingAndGlyphs">original group of 405 patients</text>
<circle cx="120.7" cy="107.65" r="3.4" fill="#c74c48"/>
<text x="127.6" y="112" textLength="187.6" lengthAdjust="spacingAndGlyphs">verified group of 105 patients</text>
<text x="267.3" y="392.6" textLength="75.2" lengthAdjust="spacingAndGlyphs">actual score</text>
<text transform="translate(17.6 248.2) rotate(-90)" textLength="134.2" lengthAdjust="spacingAndGlyphs" font-size="15.4">theoretical prediction</text>
</g>
<g class="s" font-size="13.3">
<text x="371.8" y="241.7" textLength="161.6" lengthAdjust="spacingAndGlyphs">y_original = 0.8958x + 2.1661</text>
<text x="420.6" y="256.9" textLength="62.6" lengthAdjust="spacingAndGlyphs">R² = 0.8958</text>
<text x="373.0" y="288.8" textLength="161.4" lengthAdjust="spacingAndGlyphs">y_verified = 0.9191x + 1.2254</text>
<text x="422.2" y="304.3" textLength="62.2" lengthAdjust="spacingAndGlyphs">R² = 0.8304</text>
</g>
</svg>
</body></html>
